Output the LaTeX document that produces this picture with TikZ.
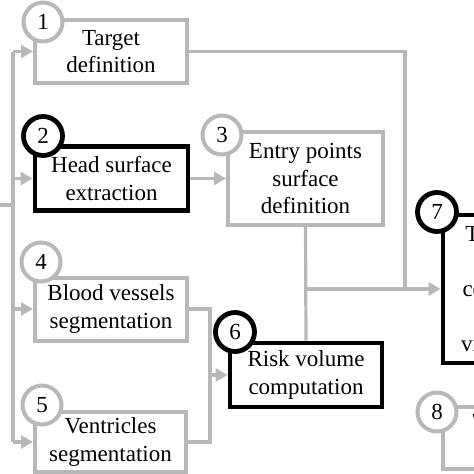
\documentclass[tikz,border=0pt]{standalone}
\usepackage{fontspec}
\setmainfont{Liberation Serif}
\usetikzlibrary{arrows.meta}
\definecolor{lg}{RGB}{184,184,184}
\begin{document}
\begin{tikzpicture}[x=1pt,y=-1pt,
  every node/.style={font=\fontsize{23}{27.5}\selectfont},
  gbox/.style={draw=lg,line width=4pt,rectangle,align=center,inner sep=0pt},
  bbox/.style={draw=black,line width=4.8pt,rectangle,align=center,inner sep=0pt},
  gnum/.style={draw=lg,line width=4pt,circle,fill=white,minimum size=39pt,inner sep=0pt},
  bnum/.style={draw=black,line width=4.8pt,circle,fill=white,minimum size=39pt,inner sep=0pt},
  gline/.style={draw=lg,line width=3.2pt},
  garrow/.style={draw=lg,line width=3.2pt,-{Triangle[length=12pt,width=13pt]}}]
\useasboundingbox (0,0) rectangle (474,474);
% boxes
\node[gbox,minimum width=152pt,minimum height=63pt] (b1) at (111,51.5) {Target\\definition};
\node[bbox,minimum width=153pt,minimum height=64pt] (b2) at (111.5,178.5) {Head surface\\extraction};
\node[gbox,minimum width=155pt,minimum height=93pt] (b3) at (305.5,178.5) {Entry points\\surface\\definition};
\node[gbox,minimum width=152pt,minimum height=63pt] (b4) at (111,309) {Blood vessels\\segmentation};
\node[gbox,minimum width=151pt,minimum height=60pt] (b5) at (110.5,442) {Ventricles\\segmentation};
\node[bbox,minimum width=152pt,minimum height=64pt] (b6) at (306,375) {Risk volume\\computation};
\node[bbox,minimum width=154pt,minimum height=148pt] (b7) at (520,289) {Trajectories\\planning\\computation\\and\\visualization};
\node[gbox,minimum width=154pt,minimum height=62pt] (b8) at (520,438) {Trajectory\\ranking};
% connectors
\coordinate (in) at (0,205);
\coordinate (bus) at (13,205);
\coordinate (c1) at (405,289);
\coordinate (j7) at (305.5,289);
\coordinate (j6) at (210,375);
\draw[gline] (in) -- (bus);
\draw[gline] (bus |- b1.west) -- (bus |- b5.west);
\draw[garrow] (bus |- b1.west) -- (b1.west);
\draw[garrow] (bus |- b2.west) -- (b2.west);
\draw[garrow] (bus |- b4.west) -- (b4.west);
\draw[garrow] (bus |- b5.west) -- (b5.west);
\draw[garrow] (b2.east) -- (b3.west);
\draw[gline] (b1.east) -| (c1);
\draw[gline] (b3.south) -- (b6.north);
\draw[garrow] (j7) -- (b7.west);
\draw[gline] (b4.east) -| (j6) |- (b5.east);
\draw[garrow] (j6) -- (b6.west);
% numbers
\node[gnum] (n1) at (43,22) {1};
\node[bnum] (n2) at (43,136) {2};
\node[gnum] (n3) at (222,135) {3};
\node[gnum] (n4) at (41,262) {4};
\node[gnum] (n5) at (42,405) {5};
\node[bnum] (n6) at (235,332) {6};
\node[bnum] (n7) at (437,212) {7};
\node[gnum] (n8) at (437,412) {8};
\end{tikzpicture}
\end{document}
